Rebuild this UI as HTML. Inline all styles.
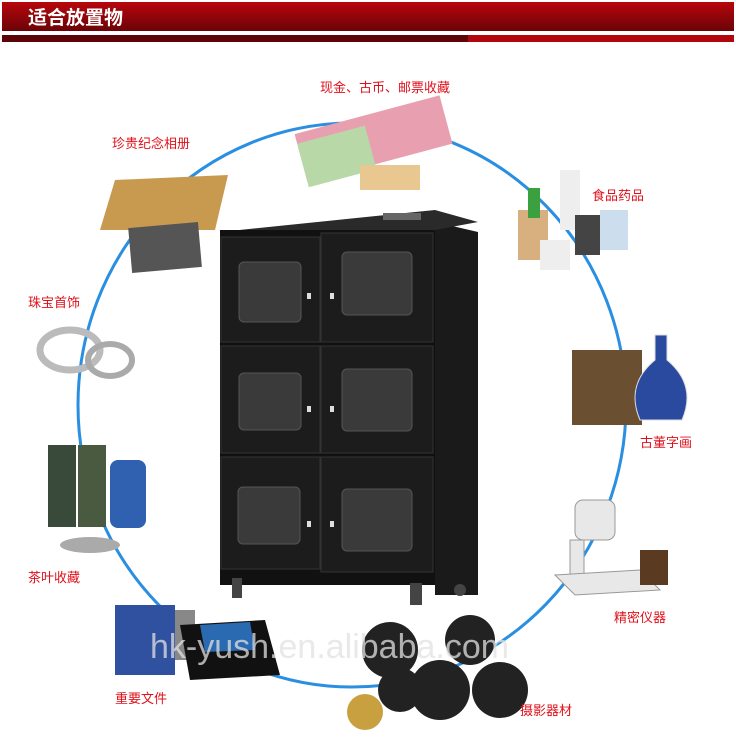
<!DOCTYPE html>
<html><head><meta charset="utf-8"><style>
body{margin:0;width:736px;height:750px;background:#fff;overflow:hidden;position:relative;font-family:"Liberation Sans","Noto Sans CJK SC",sans-serif}
.lb{position:absolute;color:#e0101a;font-size:13px;white-space:nowrap}
</style></head><body>
<svg width="736" height="750" style="position:absolute;left:0;top:0">
<defs>
<linearGradient id="hd" x1="0" y1="0" x2="0" y2="1"><stop offset="0" stop-color="#b8060c"/><stop offset="1" stop-color="#6a0408"/></linearGradient>
</defs>
<rect x="2" y="2" width="732" height="29" fill="url(#hd)"/>
<rect x="2" y="35" width="466" height="7" fill="#5c0406"/>
<rect x="468" y="35" width="266" height="7" fill="#b2060c"/>
<text x="28" y="24" font-size="19" font-weight="bold" fill="#fff" font-family="Liberation Sans,Noto Sans CJK SC,sans-serif">适合放置物</text>
<ellipse cx="352" cy="405" rx="274" ry="282" fill="none" stroke="#2a8fe0" stroke-width="3"/>
<!-- cabinet -->
<polygon points="435,222 478,232 478,595 435,595" fill="#1a1a1a"/>
<polygon points="220,232 435,210 478,222 435,230" fill="#2a2a2a"/>
<rect x="220" y="230" width="215" height="355" fill="#111"/>
<g fill="#1c1c1c" stroke="#333">
<rect x="221" y="237" width="99" height="105"/><rect x="321" y="233" width="112" height="109"/>
<rect x="221" y="346" width="99" height="107"/><rect x="321" y="346" width="112" height="107"/>
<rect x="221" y="457" width="99" height="112"/><rect x="321" y="457" width="112" height="115"/>
</g>
<g fill="#3a3a3a" stroke="#555">
<rect x="239" y="262" width="62" height="60" rx="5"/><rect x="342" y="252" width="70" height="63" rx="5"/>
<rect x="239" y="373" width="62" height="57" rx="5"/><rect x="342" y="369" width="70" height="62" rx="5"/>
<rect x="238" y="487" width="62" height="57" rx="5"/><rect x="342" y="489" width="70" height="62" rx="5"/>
</g>
<g fill="#ddd"><rect x="307" y="293" width="4" height="6"/><rect x="330" y="293" width="4" height="6"/><rect x="307" y="406" width="4" height="6"/><rect x="330" y="406" width="4" height="6"/><rect x="307" y="521" width="4" height="6"/><rect x="330" y="521" width="4" height="6"/></g>
<rect x="383" y="213" width="38" height="7" fill="#666"/>
<g fill="#444"><rect x="232" y="578" width="10" height="20"/><rect x="410" y="583" width="12" height="22"/><circle cx="460" cy="590" r="6"/></g>
<!-- money -->
<g transform="rotate(-15 370 145)"><rect x="300" y="115" width="150" height="50" fill="#e8a0b0"/><rect x="300" y="125" width="70" height="45" fill="#b8d8a8"/></g>
<rect x="360" y="165" width="60" height="25" fill="#e8c890"/>
<!-- album -->
<polygon points="115,180 228,175 215,230 100,230" fill="#c89a50"/>
<rect x="130" y="225" width="70" height="45" fill="#555" transform="rotate(-5 165 247)"/>
<!-- rings -->
<ellipse cx="70" cy="350" rx="30" ry="20" fill="none" stroke="#bbb" stroke-width="7"/>
<ellipse cx="110" cy="360" rx="22" ry="16" fill="none" stroke="#aaa" stroke-width="6"/>
<!-- tea -->
<rect x="48" y="445" width="28" height="82" fill="#3a4a3a"/><rect x="78" y="445" width="28" height="82" fill="#4a5a40"/>
<rect x="110" y="460" width="36" height="68" rx="8" fill="#3060b0"/>
<ellipse cx="90" cy="545" rx="30" ry="8" fill="#aaa"/>
<!-- files -->
<rect x="115" y="605" width="60" height="70" fill="#3050a0"/><rect x="175" y="610" width="20" height="50" fill="#888"/>
<polygon points="180,625 265,620 280,675 190,680" fill="#111"/><polygon points="200,625 250,622 255,650 205,652" fill="#2a6ab0"/>
<!-- lenses -->
<g fill="#222"><circle cx="390" cy="650" r="28"/><circle cx="440" cy="690" r="30"/><circle cx="500" cy="690" r="28"/><circle cx="470" cy="640" r="25"/><circle cx="400" cy="690" r="22"/></g>
<circle cx="365" cy="712" r="18" fill="#c8a040"/>
<!-- microscope -->
<g fill="#e8e8e8" stroke="#999"><rect x="575" y="500" width="40" height="40" rx="8"/><rect x="570" y="540" width="14" height="35"/><polygon points="555,575 640,570 660,590 575,595"/></g>
<rect x="640" y="550" width="28" height="35" fill="#5a3a20"/>
<!-- vase -->
<rect x="572" y="350" width="70" height="75" fill="#6a5030"/>
<path d="M655,335 h12 v25 q30,25 15,60 h-42 q-15,-35 15,-60z" fill="#2a4aa0" stroke="#ddd"/>
<!-- bottles -->
<g><rect x="518" y="210" width="30" height="50" fill="#d8b080"/><rect x="528" y="188" width="12" height="30" fill="#3aa040"/><rect x="560" y="170" width="20" height="60" fill="#eee"/><rect x="575" y="215" width="25" height="40" fill="#444"/><rect x="540" y="240" width="30" height="30" fill="#eee"/><rect x="600" y="210" width="28" height="40" fill="#cde"/></g>
</svg>
<div class="lb" style="left:320px;top:77px">现金、古币、邮票收藏</div>
<div class="lb" style="left:112px;top:133px">珍贵纪念相册</div>
<div class="lb" style="left:592px;top:185px">食品药品</div>
<div class="lb" style="left:28px;top:292px">珠宝首饰</div>
<div class="lb" style="left:640px;top:432px">古董字画</div>
<div class="lb" style="left:28px;top:567px">茶叶收藏</div>
<div class="lb" style="left:614px;top:607px">精密仪器</div>
<div class="lb" style="left:115px;top:688px">重要文件</div>
<div class="lb" style="left:520px;top:700px">摄影器材</div>
<div style="position:absolute;left:150px;top:628px;font-size:34px;color:rgba(225,225,225,0.75);font-family:'Liberation Sans',sans-serif">hk-yush.en.alibaba.com</div>
</body></html>
